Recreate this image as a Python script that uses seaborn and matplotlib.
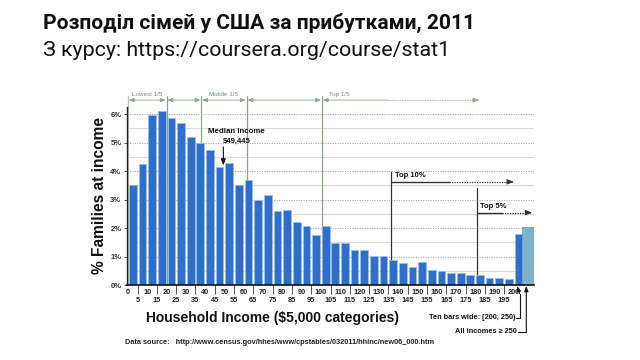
import matplotlib
matplotlib.use("Agg")
import matplotlib.pyplot as plt
import numpy as np
import pandas as pd
import seaborn as sns

# ---------------- data ----------------
bin_start = list(range(0, 205, 5)) + [250]          # $k, lower edge of each bar
pct = [3.51, 4.25, 5.96, 6.12, 5.85, 5.67, 5.18, 4.99, 4.74, 4.15,
       4.29, 3.51, 3.70, 2.98, 3.16, 2.60, 2.62, 2.22, 2.08, 1.75,
       2.07, 1.46, 1.46, 1.22, 1.22, 1.01, 1.01, 0.87, 0.78, 0.62,
       0.80, 0.53, 0.50, 0.42, 0.42, 0.36, 0.35, 0.25, 0.25, 0.21,
       1.78, 2.04]
bar_kind = ["bin"] * 41 + ["top"]
top_row_labels = [str(v) for v in range(0, 205, 10)]
bottom_row_labels = [str(v) for v in range(5, 200, 10)]
y_tick_labels = ["0%", "1%", "2%", "3%", "4%", "5%", "6%"]
fifth_edges = [0, 20, 38, 61.5, 100.5]     # $k
fifth_labels = ["Lowest 1/5", "", "Middle 1/5", "", "Top 1/5"]
median_income = 49.445
top10_cut = 136.5
top5_cut = 181.0

title = "Розподіл сімей у США за прибутками, 2011"
subtitle = "З курсу: https://coursera.org/course/stat1"

# ---------------- style ----------------
sns.set_theme(style="white")
plt.rcParams["font.family"] = ["Liberation Sans", "DejaVu Sans"]

fig = plt.figure(figsize=(6.4, 3.6), dpi=100)
ax = fig.add_axes([127 / 640, 1 - 285 / 360, 407 / 640, 189.5 / 360])

cats = [str(b) for b in bin_start]
df = pd.DataFrame({"cat": cats, "pct": pct, "kind": bar_kind})
sns.barplot(data=df, x="cat", y="pct", hue="kind", order=cats,
            palette={"bin": "#2f6fc8", "top": "#7fb3cb"}, dodge=False,
            width=0.8, legend=False, edgecolor="#9cc0ea", linewidth=0.5,
            saturation=1, ax=ax, zorder=3)

# widen last (>=250) bar
last = max(ax.patches, key=lambda p: p.get_x())
cx = last.get_x() + last.get_width() / 2
last.set_width(1.2)
last.set_x(cx - 0.6)
last.set_edgecolor("#5f97b3")

def inc2x(v):
    return v / 5 - 0.5

ax.set_xlim(-0.6, 41.6)
ax.set_ylim(0, 6.65)

# grid
for v in np.arange(0.5, 6.01, 0.5):
    if abs(v - round(v)) < 1e-6:
        ax.axhline(v, color="#a8a8a8", lw=0.8, ls=(0, (1, 1.2)), zorder=1)
    else:
        ax.axhline(v, color="#dadada", lw=0.8, zorder=1)

# spines
for s in ["top", "right"]:
    ax.spines[s].set_visible(False)
ax.spines["left"].set_color("#222222")
ax.spines["left"].set_linewidth(1.0)
ax.spines["left"].set_bounds(0, 6.25)
ax.spines["bottom"].set_color("#111111")
ax.spines["bottom"].set_linewidth(1.2)
ax.spines["bottom"].set_zorder(5)

# y ticks
ax.set_yticks(range(7))
ax.set_yticklabels(y_tick_labels, fontsize=5.5, fontweight="bold", color="#333333")
ax.tick_params(axis="y", length=2.5, width=0.6, pad=1.5, left=True, color="#333333")
ax.set_ylabel("% Families at income", fontsize=11.2, fontweight="bold", color="#111111")
ax.yaxis.label.set_va("center")
ax.yaxis.set_label_coords((100 - 127) / 407, 0.47)

# x ticks: two rows
ax.set_xticks([inc2x(int(v)) for v in top_row_labels])
ax.set_xticklabels(top_row_labels, fontsize=5.3, fontweight="bold", color="#222222")
ax.set_xticks([inc2x(int(v)) for v in bottom_row_labels], minor=True)
ax.set_xticklabels(bottom_row_labels, minor=True, fontsize=5.3, fontweight="bold",
                   color="#222222")
ax.tick_params(axis="x", which="major", length=0, width=0.6, pad=2.6, bottom=True,
               color="#333333")
ax.tick_params(axis="x", which="minor", length=6.5, width=0.6, pad=2.2, bottom=True,
               color="#333333")
ax.set_xlabel("Household Income ($5,000 categories)", fontsize=10, fontweight="bold",
              color="#111111")
ax.xaxis.label.set_va("center")
ax.xaxis.set_label_coords((273 - 127) / 407, -0.175)

HEAD = "-|>,head_length=0.3,head_width=0.12"

def dotted_arrow(x0, x1, y, color, lw):
    ax.plot([x0, x1 - 0.25], [y, y], color=color, lw=lw, ls=(0, (1, 1)),
            clip_on=False, zorder=4)
    ax.annotate("", xy=(x1, y), xytext=(x1 - 0.3, y),
                arrowprops=dict(arrowstyle=HEAD, color=color, lw=lw,
                                shrinkA=0, shrinkB=0), annotation_clip=False)

# fifths brackets
green = "#8aa58a"
for e in fifth_edges:
    ax.plot([inc2x(e)] * 2, [0, 6.63], color="#b9c9b9" if e == 0 else green, lw=0.9,
            zorder=2, clip_on=False)
yb = 6.49
for i in range(len(fifth_edges) - 1):
    a, b = inc2x(fifth_edges[i]), inc2x(fifth_edges[i + 1])
    ax.annotate("", xy=(b - 0.1, yb), xytext=(a + 0.1, yb),
                arrowprops=dict(arrowstyle="<|-|>,head_length=0.25,head_width=0.1",
                                color=green, lw=0.6, shrinkA=0, shrinkB=0),
                annotation_clip=False)
# top fifth (open ended)
a = inc2x(fifth_edges[-1])
ax.annotate("", xy=(a + 0.1, yb), xytext=(inc2x(135), yb),
            arrowprops=dict(arrowstyle="-|>,head_length=0.25,head_width=0.1",
                            color=green, lw=0.6, shrinkA=0, shrinkB=0),
            annotation_clip=False)
dotted_arrow(inc2x(135), inc2x(182), yb, green, 0.6)
for i, lab in enumerate(fifth_labels):
    if not lab:
        continue
    a = inc2x(fifth_edges[i])
    if i + 1 < len(fifth_edges):
        b = inc2x(fifth_edges[i + 1])
        ax.text((a + b) / 2, yb + 0.2, lab, fontsize=4.5, color="#6f8f6f",
                ha="center", va="center", clip_on=False)
    else:
        ax.text(a + 0.7, yb + 0.2, lab, fontsize=4.5, color="#6f8f6f",
                ha="left", va="center", clip_on=False)

# median
mx = inc2x(median_income)
ax.text(10.75, 5.38, "Median Income", fontsize=5.7, fontweight="bold", ha="center",
        va="center", color="#111111")
ax.text(10.75, 5.03, "$49,445", fontsize=5.7, fontweight="bold", ha="center",
        va="center", color="#111111")
ax.annotate("", xy=(mx, 4.2), xytext=(mx, 4.84),
            arrowprops=dict(arrowstyle=HEAD, color="#111111", lw=0.8,
                            shrinkA=0, shrinkB=0))

# top 10% / top 5%
def top_marker(cut, ytop, ytext, yarr, solid_end, dot_end, label):
    x = inc2x(cut)
    ax.plot([x, x], [0, ytop], color="#333333", lw=0.9, zorder=2)
    ax.text(x + 0.35, ytext, label, fontsize=5.5, fontweight="bold", ha="left",
            va="center", color="#111111")
    ax.plot([x, solid_end], [yarr, yarr], color="#333333", lw=1.0, zorder=4)
    dotted_arrow(solid_end, dot_end, yarr, "#333333", 0.9)

top_marker(top10_cut, 3.98, 3.86, 3.62, 32.8, 39.5, "Top 10%")
top_marker(top5_cut, 3.39, 2.77, 2.54, 38.3, 41.4, "Top 5%")

# bottom notes
kw = dict(fontsize=5.3, fontweight="bold", color="#111111", clip_on=False)
ax.text(39.65, -1.15, "Ten bars wide: [200, 250)", ha="right", va="center", **kw)
ax.plot([39.75, 40.1, 40.1], [-1.15, -1.15, -0.3], color="#111111", lw=0.8,
        clip_on=False)
ax.annotate("", xy=(39.85, -0.04), xytext=(40.1, -0.3),
            arrowprops=dict(arrowstyle="-|>,head_length=0.25,head_width=0.1",
                            color="#111111", lw=0.8, shrinkA=0, shrinkB=0),
            annotation_clip=False)
ax.text(39.85, -1.64, "All incomes \u2265 250", ha="right", va="center", **kw)
ax.plot([39.95, 40.8], [-1.64, -1.64], color="#111111", lw=0.8, clip_on=False)
ax.annotate("", xy=(40.8, -0.04), xytext=(40.8, -1.64),
            arrowprops=dict(arrowstyle="-|>,head_length=0.25,head_width=0.1",
                            color="#111111", lw=0.8, shrinkA=0, shrinkB=0),
            annotation_clip=False)

fig.text(125 / 640, 1 - 343 / 360,
         "Data source:   http://www.census.gov/hhes/www/cpstables/032011/hhinc/new06_000.htm",
         fontsize=5.3, fontweight="bold", color="#222222", ha="left", va="center")

# titles
fig.text(43 / 640, 1 - 23 / 360, title, fontsize=15.1, fontweight="bold",
         ha="left", va="center", color="#111111", family=["Roboto", "DejaVu Sans"])
fig.text(43 / 640, 1 - 50 / 360, subtitle, fontsize=15.4, ha="left", va="center",
         color="#111111", family=["Roboto", "DejaVu Sans"])

fig.savefig("out.png", dpi=100)
